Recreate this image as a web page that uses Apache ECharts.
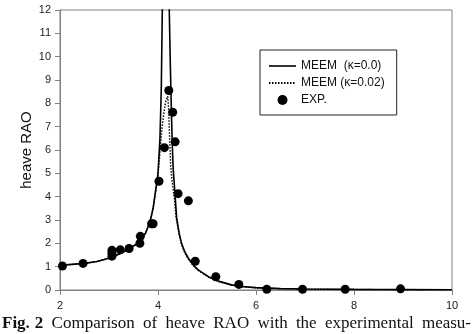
<!DOCTYPE html>
<html>
<head>
<meta charset="utf-8">
<script src="https://cdn.jsdelivr.net/npm/echarts@6/dist/echarts.min.js"></script>
<style>
  html, body { margin: 0; padding: 0; background: #fff; }
  #chart { width: 474px; height: 334px; }
</style>
</head>
<body>
<div id="chart"></div>
<script>
// ---- data ----
var xTicks = [2, 4, 6, 8, 10];
var yTicks = [0, 1, 2, 3, 4, 5, 6, 7, 8, 9, 10, 11, 12];
var seriesNames = ['MEEM  (\u03ba=0.0)', 'MEEM (\u03ba=0.02)', 'EXP.'];

// MEEM (kappa = 0.0) : [frequency, heave RAO]
var meem0 = [
  [2.0, 1.06], [2.25, 1.10], [2.5, 1.14], [2.75, 1.22], [3.0, 1.36], [3.2, 1.53],
  [3.4, 1.75], [3.55, 1.95], [3.65, 2.15], [3.75, 2.45], [3.84, 2.95], [3.9, 3.5],
  [3.96, 4.4], [4.0, 5.0], [4.04, 6.5], [4.067, 8.6], [4.088, 12.0], [4.12, 20.0],
  [4.16, 60.0], [4.2, 20.0], [4.23, 12.0], [4.25, 9.8], [4.27, 8.0], [4.29, 6.3],
  [4.31, 5.2], [4.35, 4.0], [4.38, 3.1], [4.43, 2.45], [4.48, 2.0], [4.55, 1.62],
  [4.62, 1.36], [4.72, 1.07], [4.82, 0.86], [5.03, 0.57], [5.23, 0.38], [5.5, 0.22],
  [5.71, 0.15], [6.0, 0.10], [6.5, 0.06], [7.0, 0.04], [8.0, 0.025], [9.0, 0.015],
  [10.0, 0.01]
];

// MEEM (kappa = 0.02)
var meem002 = [
  [2.0, 1.06], [2.25, 1.10], [2.5, 1.14], [2.75, 1.22], [3.0, 1.36], [3.2, 1.53],
  [3.4, 1.75], [3.55, 1.95], [3.65, 2.15], [3.75, 2.45], [3.84, 2.95], [3.9, 3.5],
  [3.96, 4.3], [4.0, 4.9], [4.04, 5.9], [4.08, 6.9], [4.12, 7.6], [4.16, 8.1],
  [4.2, 8.3], [4.22, 7.6], [4.24, 6.3], [4.26, 5.3], [4.29, 4.6], [4.33, 4.0],
  [4.37, 3.1], [4.43, 2.4], [4.48, 1.95], [4.55, 1.58], [4.62, 1.32], [4.72, 1.04],
  [4.82, 0.84], [5.03, 0.55], [5.23, 0.37], [5.5, 0.21], [5.71, 0.14], [6.0, 0.09],
  [6.5, 0.055], [7.0, 0.04], [8.0, 0.02], [9.0, 0.015], [10.0, 0.01]
];

// EXP. (measured)
var expData = [
  [2.05, 1.03], [2.47, 1.14], [3.06, 1.70], [3.06, 1.58], [3.06, 1.45], [3.23, 1.72],
  [3.41, 1.78], [3.63, 2.0], [3.64, 2.3], [3.87, 2.84], [3.9, 2.84], [4.02, 4.66],
  [4.13, 6.1], [4.22, 8.55], [4.3, 7.62], [4.35, 6.35], [4.41, 4.13], [4.62, 3.82],
  [4.76, 1.23], [5.18, 0.57], [5.65, 0.24], [6.22, 0.03], [6.95, 0.03], [7.82, 0.03],
  [8.95, 0.05]
];

var yAxisTitle = 'heave RAO';
var captionBold = ['Fig.', '2'];
var captionWords = ['Comparison', 'of', 'heave', 'RAO', 'with', 'the', 'experimental', 'measu-'];

// ---- layout (not data) ----
var capLeft = 2, capRight = 471, capY = 325, capSize = 17;
var serif = 'Liberation Serif, Times New Roman, serif';
var sans = 'Liberation Sans, Arial, sans-serif';

var mctx = document.createElement('canvas').getContext('2d');
function tw(txt, font) { mctx.font = font; return mctx.measureText(txt).width; }
var boldFont = 'bold ' + capSize + 'px ' + serif;
var regFont = capSize + 'px ' + serif;

var graphics = [];
var cx = capLeft;
captionBold.forEach(function (w, i) {
  graphics.push({ type: 'text', left: cx, top: capY - 10,
    style: { text: w, font: boldFont, fill: '#111' } });
  cx += tw(w, boldFont) + 5;
});
var startX = cx - 5;
var wordsW = captionWords.reduce(function (s, w) { return s + tw(w, regFont); }, 0);
var gap = (capRight - startX - wordsW) / captionWords.length;
cx = startX + gap;
captionWords.forEach(function (w) {
  graphics.push({ type: 'text', left: cx, top: capY - 10,
    style: { text: w, font: regFont, fill: '#111' } });
  cx += tw(w, regFont) + gap;
});

var chart = echarts.init(document.getElementById('chart'), null, { renderer: 'canvas' });
var axisColor = '#808080';
var textColor = '#222';

chart.setOption({
  animation: false,
  backgroundColor: '#fff',
  grid: { left: 60, right: 22, top: 10, bottom: 44, show: true, borderColor: axisColor, borderWidth: 1 },
  xAxis: {
    type: 'value', min: xTicks[0], max: xTicks[xTicks.length - 1], interval: 2,
    axisLine: { show: true, lineStyle: { color: axisColor, width: 1 } },
    axisTick: { show: true, inside: false, length: 5, lineStyle: { color: axisColor } },
    axisLabel: { color: textColor, fontFamily: sans, fontSize: 11, margin: 10 },
    splitLine: { show: false }
  },
  yAxis: {
    type: 'value', min: yTicks[0], max: yTicks[yTicks.length - 1], interval: 1,
    name: yAxisTitle, nameLocation: 'middle', nameGap: 26, nameMoveOverlap: false,
    nameTextStyle: { color: '#111', fontFamily: sans, fontSize: 15 },
    axisLine: { show: true, lineStyle: { color: axisColor, width: 1 } },
    axisTick: { show: true, inside: false, length: 5, lineStyle: { color: axisColor } },
    axisLabel: { color: textColor, fontFamily: sans, fontSize: 11, margin: 9 },
    splitLine: { show: false }
  },
  legend: {
    orient: 'vertical', left: 260, top: 50,
    padding: [10, 12, 9, 8], itemGap: 5, itemWidth: 27, itemHeight: 10,
    borderColor: '#222', borderWidth: 1, backgroundColor: '#fff',
    textStyle: { color: '#111', fontFamily: sans, fontSize: 12 },
    data: [
      { name: seriesNames[0], icon: 'path://M0,0 L27,0 L27,1.6 L0,1.6 Z' },
      { name: seriesNames[1], itemStyle: { color: 'rgba(0,0,0,0)', borderWidth: 0, opacity: 0 } },
      { name: seriesNames[2], icon: 'circle', itemStyle: { color: '#000', opacity: 1 } }
    ]
  },
  series: [
    { name: seriesNames[0], type: 'line', data: meem0, showSymbol: false, symbol: 'none', smooth: false,
      lineStyle: { color: '#000', width: 1.6, type: 'solid' }, itemStyle: { color: '#000' }, clip: true, z: 3 },
    { name: seriesNames[1], type: 'line', data: meem002, showSymbol: false, symbol: 'none', smooth: false,
      lineStyle: { color: '#000', width: 1.4, type: [1.5, 1.5] }, itemStyle: { color: '#000' }, clip: true, z: 2 },
    { name: seriesNames[2], type: 'scatter', data: expData, symbol: 'circle', symbolSize: 9,
      itemStyle: { color: '#000', opacity: 1 }, z: 4 }
  ],
  graphic: graphics
});
</script>
</body>
</html>
